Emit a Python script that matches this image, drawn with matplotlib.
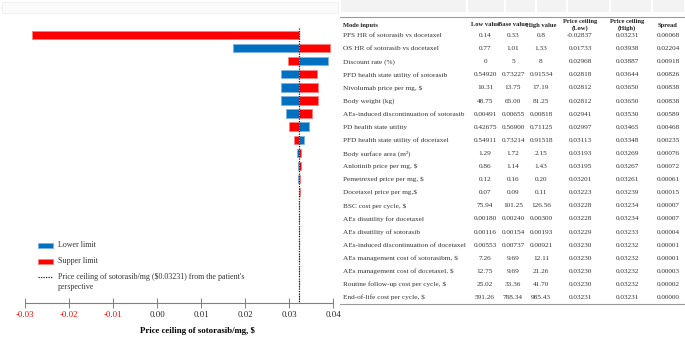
import matplotlib
matplotlib.use("Agg")
import matplotlib.pyplot as plt
from matplotlib.patches import Rectangle
from matplotlib.lines import Line2D

plt.rcParams["font.family"] = ["Liberation Serif", "DejaVu Serif"]

# ---- data ----
params = [
    "PFS HR of sotorasib vs docetaxel",
    "OS HR of sotorasib vs docetaxel",
    "Discount rate (%)",
    "PFD health state utility of sotorasib",
    "Nivolumab price per mg, $",
    "Body weight (kg)",
    "AEs-induced discontinuation of sotorasib",
    "PD health state utility",
    "PFD health state utility of docetaxel",
    "Body surface area (m\u00b2)",
    "Anlotinib price per mg, $",
    "Pemetrexed price per mg, $",
    "Docetaxel price per mg,$",
    "BSC cost per cycle, $",
    "AEs disutility for docetaxel",
    "AEs disutility of sotorasib",
    "AEs-induced discontinuation of docetaxel",
    "AEs management cost of sotorasibm, $",
    "AEs management cost of docetaxel, $",
    "Routine follow-up cost per cycle, $",
    "End-of-life cost per cycle, $",
]
low_value = ["0.14", "0.77", "0", "0.54920", "10.31", "48.75", "0.00491", "0.42675",
             "0.54911", "1.29", "0.86", "0.12", "0.07", "75.94", "0.00180", "0.00116",
             "0.00553", "7.26", "12.75", "25.02", "591.26"]
base_value = ["0.33", "1.01", "5", "0.73227", "13.75", "65.00", "0.00655", "0.56900",
              "0.73214", "1.72", "1.14", "0.16", "0.09", "101.25", "0.00240", "0.00154",
              "0.00737", "9.69", "9.69", "33.36", "788.34"]
high_value = ["0.8", "1.33", "8", "0.91534", "17.19", "81.25", "0.00818", "0.71125",
              "0.91518", "2.15", "1.43", "0.20", "0.11", "126.56", "0.00300", "0.00193",
              "0.00921", "12.11", "21.26", "41.70", "985.43"]
pc_low = [-0.02837, 0.01733, 0.02968, 0.02818, 0.02812, 0.02812, 0.02941, 0.02997,
          0.03113, 0.03193, 0.03195, 0.03201, 0.03223, 0.03228, 0.03228, 0.03229,
          0.03230, 0.03230, 0.03230, 0.03230, 0.03231]
pc_high = [0.03231, 0.03938, 0.03887, 0.03644, 0.03650, 0.03650, 0.03530, 0.03465,
           0.03348, 0.03269, 0.03267, 0.03261, 0.03239, 0.03234, 0.03234, 0.03233,
           0.03232, 0.03232, 0.03232, 0.03232, 0.03231]
spread = ["0.06068", "0.02204", "0.00918", "0.00826", "0.00838", "0.00838", "0.00589",
          "0.00468", "0.00235", "0.00076", "0.00072", "0.00061", "0.00015", "0.00007",
          "0.00007", "0.00004", "0.00001", "0.00001", "0.00003", "0.00002", "0.00000"]

# which end of the bar comes from the lower / upper input limit
lower_limit_pc = [0.03231, 0.01733, 0.03887, 0.02818, 0.02812, 0.02812, 0.02941, 0.03465,
                  0.03348, 0.03193, 0.03195, 0.03201, 0.03223, 0.03228, 0.03228, 0.03233,
                  0.03230, 0.03232, 0.03230, 0.03230, 0.03231]
upper_limit_pc = [-0.02837, 0.03938, 0.02968, 0.03644, 0.03650, 0.03650, 0.03530, 0.02997,
                  0.03113, 0.03269, 0.03267, 0.03261, 0.03239, 0.03234, 0.03234, 0.03229,
                  0.03232, 0.03230, 0.03232, 0.03232, 0.03231]
base_pc = 0.03231
xticks = [-0.03, -0.02, -0.01, 0.00, 0.01, 0.02, 0.03, 0.04]

BLUE = "#0070C0"
RED = "#FF0000"
W, H = 685, 338


def fx(px):
    return px / W


def fy(py):
    return 1 - py / H


fig = plt.figure(figsize=(W / 100, H / 100), dpi=100)

# faint boxes on top of the original figure
fig.add_artist(Rectangle((fx(2), fy(13)), fx(336), 11 / H, transform=fig.transFigure,
                         facecolor="#fbfbfb", edgecolor="#eeeeee", lw=0.6))
cells = [340, 467, 505, 536, 567, 610, 652, 685]
for a, b in zip(cells[:-1], cells[1:]):
    fig.add_artist(Rectangle((fx(a + 1), fy(12)), fx(b - a - 2), 12 / H,
                             transform=fig.transFigure, facecolor="#f3f3f3",
                             edgecolor="none"))

# ---- tornado plot ----
ax = fig.add_axes([fx(25), fy(303), fx(308), (303 - 20) / H])
n = len(params)
rows = list(range(n))
ax.barh(rows, [v - base_pc for v in lower_limit_pc], left=base_pc, height=0.64,
        color=BLUE, edgecolor="#7fb3e0", linewidth=0.6, zorder=2)
ax.barh(rows, [v - base_pc for v in upper_limit_pc], left=base_pc, height=0.64,
        color=RED, edgecolor="#ff8080", linewidth=0.6, zorder=2)
ax.set_ylim(20.46, -1.145)
ax.plot([base_pc, base_pc], [-0.55, 20.46], color="#222222", lw=0.9,
        linestyle=(0, (1, 1)), zorder=3, clip_on=False)

ax.set_xlim(-0.03, 0.04)
ax.set_xticks(xticks)
ax.set_xticklabels([f"{t:.2f}" for t in xticks], fontsize=6.3)
for lab, t in zip(ax.get_xticklabels(), xticks):
    lab.set_color(RED if t < 0 else "#222222")
ax.tick_params(axis="x", direction="inout", length=7, width=0.7, color="#808080", pad=2)
ax.set_yticks([])
for s in ["top", "left", "right"]:
    ax.spines[s].set_visible(False)
ax.spines["bottom"].set_color("#808080")
ax.spines["bottom"].set_linewidth(0.8)
ax.set_xlabel("Price ceiling of sotorasib/mg, $", fontsize=6.3, fontweight="bold")
ax.xaxis.set_label_coords(0.56, -0.085)

# legend, drawn by hand to keep the reference layout
fig.add_artist(Rectangle((fx(38), fy(248)), fx(15), 5 / H, transform=fig.transFigure,
                         facecolor=BLUE, edgecolor="#7fb3e0", lw=0.6))
fig.text(fx(58), fy(245), "Lower limit", fontsize=5.8, va="center", color="#333333")
fig.add_artist(Rectangle((fx(38), fy(264)), fx(15), 5 / H, transform=fig.transFigure,
                         facecolor=RED, edgecolor="#ff8080", lw=0.6))
fig.text(fx(58), fy(261), "Supper limit", fontsize=5.8, va="center", color="#333333")
fig.add_artist(Line2D([fx(38), fx(53)], [fy(277), fy(277)], transform=fig.transFigure,
                      color="#222222", lw=0.9, linestyle=(0, (1, 1))))
fig.text(fx(58), fy(277), "Price ceiling of sotorasib/mg ($0.03231) from the patient's",
         fontsize=5.8, va="center", color="#333333")
fig.text(fx(58), fy(287), "perspective", fontsize=5.8, va="center", color="#333333")

# ---- table ----
fig.add_artist(Line2D([fx(340), fx(685)], [fy(17), fy(17)], transform=fig.transFigure,
                      color="#9a9a9a", lw=0.8))
fig.add_artist(Line2D([fx(340), fx(685)], [fy(304), fy(304)], transform=fig.transFigure,
                      color="#9a9a9a", lw=0.8))

col_x = [485, 513, 541, 580, 627, 668]
headers = ["Low value", "Base value", "High value", "Price ceiling\n(Low)",
           "Price ceiling\n(High)", "Spread"]
hkw = dict(fontsize=4.7, fontweight="bold", va="center", color="#222222")
fig.text(fx(343), fy(25), "Mode inputs", ha="left", **hkw)
for x, h in zip(col_x, headers):
    fig.text(fx(x), fy(25), h, ha="center", linespacing=1.3, **hkw)

tkw = dict(fontsize=5.25, va="center", color="#333333")
for i in range(n):
    y = 35.5 + 13.1 * i
    fig.text(fx(343), fy(y), params[i], ha="left", **tkw)
    vals = [low_value[i], base_value[i], high_value[i],
            f"{pc_low[i]:.5f}", f"{pc_high[i]:.5f}", spread[i]]
    for x, v in zip(col_x, vals):
        fig.text(fx(x), fy(y), v, ha="center", **tkw)

fig.savefig("out.png", dpi=100)
